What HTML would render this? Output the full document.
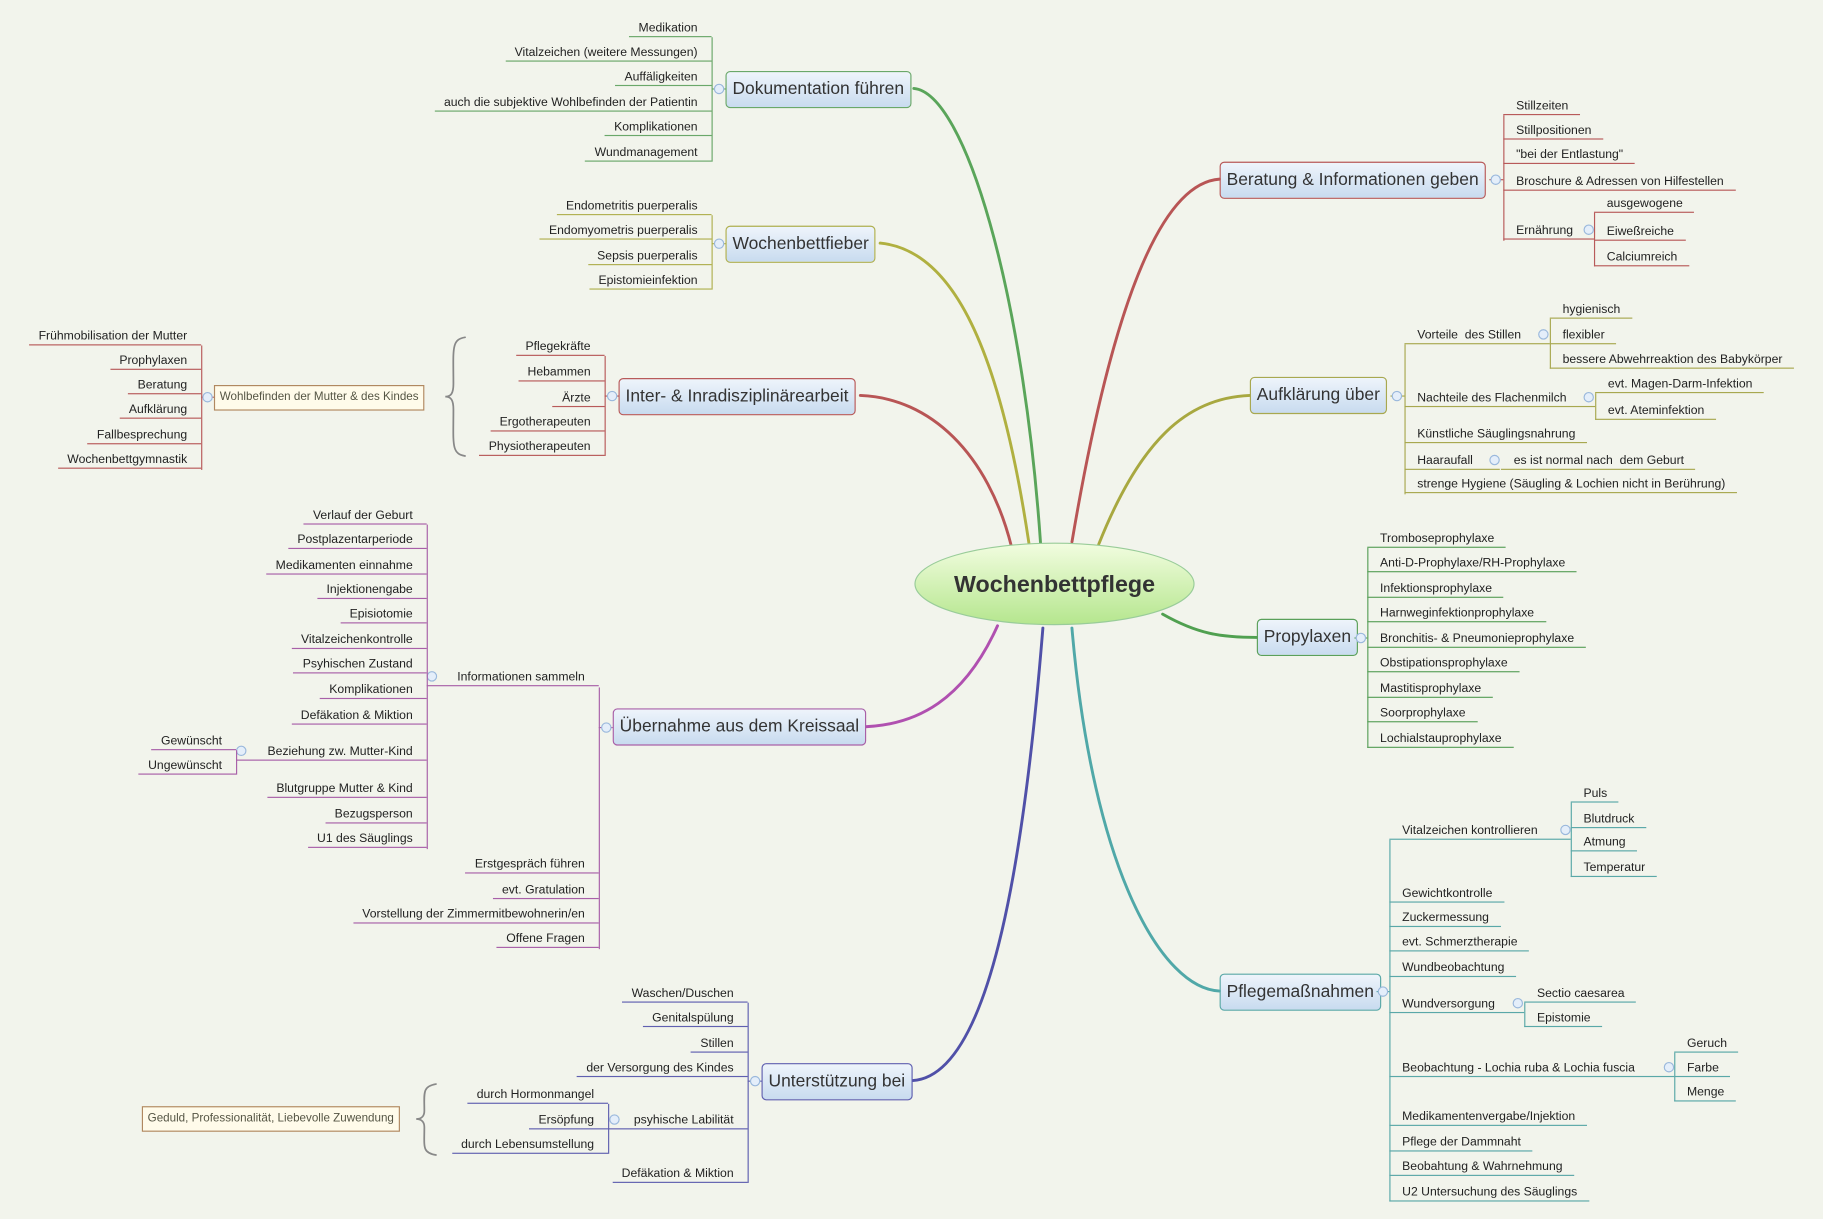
<!DOCTYPE html>
<html><head><meta charset="utf-8"><style>
html,body{margin:0;padding:0;width:1823px;height:1219px;overflow:hidden;background:#f2f4ec}
#c{position:absolute;left:0;top:0;width:1568px;height:1048px;transform-origin:0 0;transform:scale(1.16263,1.16317);font-family:"Liberation Sans","DejaVu Sans",sans-serif;color:#222}
.l,.r{position:absolute;font-size:10.5px;line-height:14px;height:14px;border-bottom:1px solid var(--c);white-space:nowrap;margin-top:2px}
.l{text-align:right;padding:0 12px 0 8px}
.r{text-align:left;padding:0 10px 0 11px}
.b{position:absolute;border-left:1px solid var(--c);margin-top:2px}
.h{position:absolute;height:1px;background:var(--c)}
.t{position:absolute;border:1px solid var(--c);border-radius:4px;background:linear-gradient(#eef4fb,#c8dbef);font-size:15px;height:30px;line-height:30px;padding:0 5px;white-space:nowrap;color:#333}
.n{position:absolute;border:1px solid #b08860;background:#fffbea;font-size:10px;height:20px;line-height:20px;padding:0 4px;color:#554;white-space:nowrap}
.o{position:absolute;width:7px;height:7px;border-radius:50%;border:1px solid #9ab8dc;background:#e4eefa;margin-top:2px}
svg{position:absolute;left:0;top:0}
</style></head><body><div id="c">
<svg width="1568" height="1048" fill="none" stroke-linecap="round">
<path d="M895 467 C880 250 830 80 786 76" stroke="#5aa55a" stroke-width="2.5"/>
<path d="M885 467 C860 300 820 215 757 209" stroke="#b0b040" stroke-width="2.5"/>
<path d="M870 470 C850 390 800 342 740 340" stroke="#b85555" stroke-width="2.5"/>
<path d="M858 538 C830 600 790 625 737 625" stroke="#b050b0" stroke-width="2.5"/>
<path d="M897 540 C880 750 850 925 785 929" stroke="#5050a8" stroke-width="2.5"/>
<path d="M922 540 C940 750 1000 850 1049 852" stroke="#50a8a8" stroke-width="2.5"/>
<path d="M1000 528 C1030 545 1050 548 1081 548" stroke="#50a050" stroke-width="2.5"/>
<path d="M945 468 C980 380 1020 342 1075 340" stroke="#a8a840" stroke-width="2.5"/>
<path d="M922 466 C950 300 990 158 1049 154" stroke="#b85555" stroke-width="2.5"/>
<path d="M400 290 C388 292 390 300 390 330 C390 338 388 341 383 341 C388 341 390 344 390 352 C390 382 388 390 400 392" stroke="#888" stroke-width="1.5"/>
<path d="M375 932 C363 934 365 940 365 955 C365 959 363 962 358 962 C363 962 365 965 365 969 C365 986 363 991 375 993" stroke="#888" stroke-width="1.5"/>
<ellipse cx="907" cy="502" rx="120" ry="35" fill="url(#g)" stroke="#9c9" stroke-width="1"/>
<defs><linearGradient id="g" x1="0" y1="0" x2="0" y2="1"><stop offset="0" stop-color="#f2fde0"/><stop offset="1" stop-color="#b5e68e"/></linearGradient></defs>
<text x="907" y="509" text-anchor="middle" font-family="Liberation Sans,sans-serif" font-weight="bold" font-size="20" fill="#333" stroke="none">Wochenbettpflege</text>
</svg>

<div style="--c:#6aa86a">
<div class="t" style="left:624px;top:61px">Dokumentation führen</div>
<div class="h" style="left:612px;top:76px;width:12px"></div><div class="o" style="left:614px;top:70px"></div>
<div class="b" style="left:612px;top:30px;height:107px"></div>
<div class="l" style="right:956px;top:15px">Medikation</div>
<div class="l" style="right:956px;top:36px">Vitalzeichen (weitere Messungen)</div>
<div class="l" style="right:956px;top:57px">Auffäligkeiten</div>
<div class="l" style="right:956px;top:79px">auch die subjektive Wohlbefinden der Patientin</div>
<div class="l" style="right:956px;top:100px">Komplikationen</div>
<div class="l" style="right:956px;top:122px">Wundmanagement</div>
</div>

<div style="--c:#b0b050">
<div class="t" style="left:624px;top:194px">Wochenbettfieber</div>
<div class="h" style="left:612px;top:209px;width:12px"></div><div class="o" style="left:614px;top:203px"></div>
<div class="b" style="left:612px;top:183px;height:64px"></div>
<div class="l" style="right:956px;top:168px">Endometritis puerperalis</div>
<div class="l" style="right:956px;top:189px">Endomyometris puerperalis</div>
<div class="l" style="right:956px;top:211px">Sepsis puerperalis</div>
<div class="l" style="right:956px;top:232px">Epistomieinfektion</div>
</div>

<div style="--c:#b85a5a">
<div class="t" style="left:532px;top:325px">Inter- &amp; Inradisziplinärearbeit</div>
<div class="h" style="left:520px;top:340px;width:12px"></div><div class="o" style="left:522px;top:334px"></div>
<div class="b" style="left:520px;top:304px;height:86px"></div>
<div class="l" style="right:1048px;top:289px">Pflegekräfte</div>
<div class="l" style="right:1048px;top:311px">Hebammen</div>
<div class="l" style="right:1048px;top:333px">Ärzte</div>
<div class="l" style="right:1048px;top:354px">Ergotherapeuten</div>
<div class="l" style="right:1048px;top:375px">Physiotherapeuten</div>
<div class="n" style="left:184px;top:331px">Wohlbefinden der Mutter &amp; des Kindes</div>
<div class="h" style="left:173px;top:341px;width:11px"></div><div class="o" style="left:174px;top:335px"></div>
<div class="b" style="left:173px;top:295px;height:107px"></div>
<div class="l" style="right:1395px;top:280px">Frühmobilisation der Mutter</div>
<div class="l" style="right:1395px;top:301px">Prophylaxen</div>
<div class="l" style="right:1395px;top:322px">Beratung</div>
<div class="l" style="right:1395px;top:343px">Aufklärung</div>
<div class="l" style="right:1395px;top:365px">Fallbesprechung</div>
<div class="l" style="right:1395px;top:386px">Wochenbettgymnastik</div>
</div>

<div style="--c:#a860a8">
<div class="t" style="left:527px;top:609px">Übernahme aus dem Kreissaal</div>
<div class="h" style="left:515px;top:625px;width:12px"></div><div class="o" style="left:517px;top:619px"></div>
<div class="b" style="left:515px;top:589px;height:225px"></div>
<div class="l" style="left:367px;right:1053px;top:573px">Informationen sammeln</div><div class="o" style="left:367px;top:575px"></div>
<div class="l" style="right:1053px;top:734px">Erstgespräch führen</div>
<div class="l" style="right:1053px;top:756px">evt. Gratulation</div>
<div class="l" style="right:1053px;top:777px">Vorstellung der Zimmermitbewohnerin/en</div>
<div class="l" style="right:1053px;top:798px">Offene Fragen</div>
<div class="b" style="left:367px;top:449px;height:279px"></div>
<div class="l" style="right:1201px;top:434px">Verlauf der Geburt</div>
<div class="l" style="right:1201px;top:455px">Postplazentarperiode</div>
<div class="l" style="right:1201px;top:477px">Medikamenten einnahme</div>
<div class="l" style="right:1201px;top:498px">Injektionengabe</div>
<div class="l" style="right:1201px;top:519px">Episiotomie</div>
<div class="l" style="right:1201px;top:541px">Vitalzeichenkontrolle</div>
<div class="l" style="right:1201px;top:562px">Psyhischen Zustand</div>
<div class="l" style="right:1201px;top:584px">Komplikationen</div>
<div class="l" style="right:1201px;top:606px">Defäkation &amp; Miktion</div>
<div class="l" style="left:203px;right:1201px;top:637px">Beziehung zw. Mutter-Kind</div><div class="o" style="left:203px;top:639px"></div>
<div class="l" style="right:1201px;top:669px">Blutgruppe Mutter &amp; Kind</div>
<div class="l" style="right:1201px;top:691px">Bezugsperson</div>
<div class="l" style="right:1201px;top:712px">U1 des Säuglings</div>
<div class="b" style="left:203px;top:643px;height:21px"></div>
<div class="l" style="right:1365px;top:628px">Gewünscht</div>
<div class="l" style="right:1365px;top:649px">Ungewünscht</div>
</div>

<div style="--c:#6060b0">
<div class="t" style="left:655px;top:914px">Unterstützung bei</div>
<div class="h" style="left:643px;top:929px;width:12px"></div><div class="o" style="left:645px;top:923px"></div>
<div class="b" style="left:643px;top:860px;height:155px"></div>
<div class="l" style="right:925px;top:845px">Waschen/Duschen</div>
<div class="l" style="right:925px;top:866px">Genitalspülung</div>
<div class="l" style="right:925px;top:888px">Stillen</div>
<div class="l" style="right:925px;top:909px">der Versorgung des Kindes</div>
<div class="l" style="left:523px;right:925px;top:954px">psyhische Labilität</div><div class="o" style="left:524px;top:956px"></div>
<div class="l" style="right:925px;top:1000px">Defäkation &amp; Miktion</div>
<div class="b" style="left:523px;top:947px;height:43px"></div>
<div class="l" style="right:1045px;top:932px">durch Hormonmangel</div>
<div class="l" style="right:1045px;top:954px">Ersöpfung</div>
<div class="l" style="right:1045px;top:975px">durch Lebensumstellung</div>
<div class="n" style="left:122px;top:951px">Geduld, Professionalität, Liebevolle Zuwendung</div>
</div>

<div style="--c:#b85a5a">
<div class="t" style="left:1049px;top:139px">Beratung &amp; Informationen geben</div>
<div class="h" style="left:1281px;top:154px;width:12px"></div><div class="o" style="left:1282px;top:148px"></div>
<div class="b" style="left:1293px;top:97px;height:108px"></div>
<div class="r" style="left:1293px;top:82px">Stillzeiten</div>
<div class="r" style="left:1293px;top:103px">Stillpositionen</div>
<div class="r" style="left:1293px;top:124px">"bei der Entlastung"</div>
<div class="r" style="left:1293px;top:147px">Broschure &amp; Adressen von Hilfestellen</div>
<div class="r" style="left:1293px;right:197px;top:189px">Ernährung</div><div class="o" style="left:1362px;top:191px"></div>
<div class="b" style="left:1371px;top:181px;height:46px"></div>
<div class="r" style="left:1371px;top:166px">ausgewogene</div>
<div class="r" style="left:1371px;top:190px">Eiweßreiche</div>
<div class="r" style="left:1371px;top:212px">Calciumreich</div>
</div>

<div style="--c:#a8a850">
<div class="t" style="left:1075px;top:324px">Aufklärung über</div>
<div class="h" style="left:1196px;top:340px;width:12px"></div><div class="o" style="left:1197px;top:334px"></div>
<div class="b" style="left:1208px;top:294px;height:129px"></div>
<div class="r" style="left:1208px;right:235px;top:279px">Vorteile&nbsp; des Stillen</div><div class="o" style="left:1323px;top:281px"></div>
<div class="r" style="left:1208px;right:196px;top:333px">Nachteile des Flachenmilch</div><div class="o" style="left:1362px;top:335px"></div>
<div class="r" style="left:1208px;top:364px">Künstliche Säuglingsnahrung</div>
<div class="r" style="left:1208px;width:61px;top:387px">Haaraufall</div><div class="o" style="left:1281px;top:389px"></div>
<div class="r" style="left:1291px;top:387px">es ist normal nach&nbsp; dem Geburt</div>
<div class="r" style="left:1208px;top:407px">strenge Hygiene (Säugling &amp; Lochien nicht in Berührung)</div>
<div class="b" style="left:1333px;top:272px;height:43px"></div>
<div class="r" style="left:1333px;top:257px">hygienisch</div>
<div class="r" style="left:1333px;top:279px">flexibler</div>
<div class="r" style="left:1333px;top:300px">bessere Abwehrreaktion des Babykörper</div>
<div class="b" style="left:1372px;top:336px;height:23px"></div>
<div class="r" style="left:1372px;top:321px">evt. Magen-Darm-Infektion</div>
<div class="r" style="left:1372px;top:344px">evt. Ateminfektion</div>
</div>

<div style="--c:#5aa05a">
<div class="t" style="left:1081px;top:532px">Propylaxen</div>
<div class="h" style="left:1165px;top:548px;width:11px"></div><div class="o" style="left:1166px;top:542px"></div>
<div class="b" style="left:1176px;top:469px;height:172px"></div>
<div class="r" style="left:1176px;top:454px">Tromboseprophylaxe</div>
<div class="r" style="left:1176px;top:475px">Anti-D-Prophylaxe/RH-Prophylaxe</div>
<div class="r" style="left:1176px;top:497px">Infektionsprophylaxe</div>
<div class="r" style="left:1176px;top:518px">Harnweginfektionprophylaxe</div>
<div class="r" style="left:1176px;top:540px">Bronchitis- &amp; Pneumonieprophylaxe</div>
<div class="r" style="left:1176px;top:561px">Obstipationsprophylaxe</div>
<div class="r" style="left:1176px;top:583px">Mastitisprophylaxe</div>
<div class="r" style="left:1176px;top:604px">Soorprophylaxe</div>
<div class="r" style="left:1176px;top:626px">Lochialstauprophylaxe</div>
</div>

<div style="--c:#5aa8a8">
<div class="t" style="left:1049px;top:837px">Pflegemaßnahmen</div>
<div class="h" style="left:1184px;top:852px;width:11px"></div><div class="o" style="left:1185px;top:846px"></div>
<div class="b" style="left:1195px;top:720px;height:311px"></div>
<div class="r" style="left:1195px;right:217px;top:705px">Vitalzeichen kontrollieren</div><div class="o" style="left:1342px;top:707px"></div>
<div class="r" style="left:1195px;top:759px">Gewichtkontrolle</div>
<div class="r" style="left:1195px;top:780px">Zuckermessung</div>
<div class="r" style="left:1195px;top:801px">evt. Schmerztherapie</div>
<div class="r" style="left:1195px;top:823px">Wundbeobachtung</div>
<div class="r" style="left:1195px;right:257px;top:854px">Wundversorgung</div><div class="o" style="left:1301px;top:856px"></div>
<div class="r" style="left:1195px;right:128px;top:909px">Beobachtung - Lochia ruba &amp; Lochia fuscia</div><div class="o" style="left:1431px;top:911px"></div>
<div class="r" style="left:1195px;top:951px">Medikamentenvergabe/Injektion</div>
<div class="r" style="left:1195px;top:973px">Pflege der Dammnaht</div>
<div class="r" style="left:1195px;top:994px">Beobahtung &amp; Wahrnehmung</div>
<div class="r" style="left:1195px;top:1016px">U2 Untersuchung des Säuglings</div>
<div class="b" style="left:1351px;top:688px;height:64px"></div>
<div class="r" style="left:1351px;top:673px">Puls</div>
<div class="r" style="left:1351px;top:695px">Blutdruck</div>
<div class="r" style="left:1351px;top:715px">Atmung</div>
<div class="r" style="left:1351px;top:737px">Temperatur</div>
<div class="b" style="left:1311px;top:860px;height:21px"></div>
<div class="r" style="left:1311px;top:845px">Sectio caesarea</div>
<div class="r" style="left:1311px;top:866px">Epistomie</div>
<div class="b" style="left:1440px;top:903px;height:42px"></div>
<div class="r" style="left:1440px;top:888px">Geruch</div>
<div class="r" style="left:1440px;top:909px">Farbe</div>
<div class="r" style="left:1440px;top:930px">Menge</div>
</div>
</div></body></html>
